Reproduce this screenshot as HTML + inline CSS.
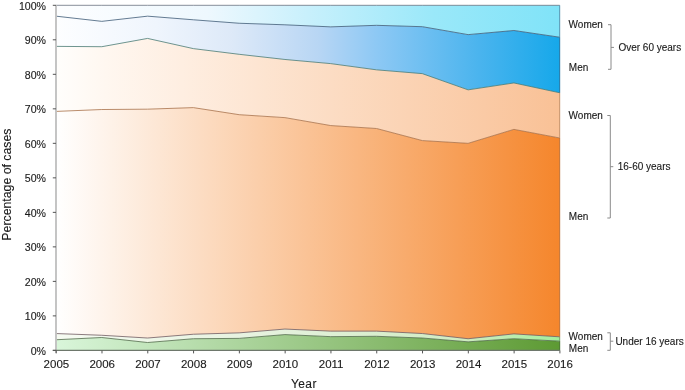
<!DOCTYPE html><html><head><meta charset="utf-8"><style>html,body{margin:0;padding:0;background:#fff;}svg{display:block;}text{font-family:"Liberation Sans",Arial,sans-serif;fill:#1a1a1a;stroke:#1a1a1a;stroke-width:0.12px;}</style></head><body>
<svg width="685" height="390" viewBox="0 0 685 390">
<defs>
<linearGradient id="g0" gradientUnits="userSpaceOnUse" x1="56.0" y1="0" x2="559.7" y2="0"><stop offset="0" stop-color="#d9f6da"/><stop offset="1" stop-color="#5d9a33"/></linearGradient>
<linearGradient id="g1" gradientUnits="userSpaceOnUse" x1="56.0" y1="0" x2="559.7" y2="0"><stop offset="0" stop-color="#f6fbf2"/><stop offset="0.45" stop-color="#e4f1dc"/><stop offset="0.8" stop-color="#d0ecc2"/><stop offset="0.9" stop-color="#bcecb0"/><stop offset="1" stop-color="#a2ee9e"/></linearGradient>
<linearGradient id="g2" gradientUnits="userSpaceOnUse" x1="56.0" y1="0" x2="559.7" y2="0"><stop offset="0" stop-color="#ffffff"/><stop offset="1" stop-color="#f5862c"/></linearGradient>
<linearGradient id="g3" gradientUnits="userSpaceOnUse" x1="56.0" y1="0" x2="559.7" y2="0"><stop offset="0" stop-color="#fffefc"/><stop offset="0.1" stop-color="#fff7f0"/><stop offset="1" stop-color="#f9c196"/></linearGradient>
<linearGradient id="g4" gradientUnits="userSpaceOnUse" x1="56.0" y1="0" x2="559.7" y2="0"><stop offset="0" stop-color="#fdfeff"/><stop offset="0.2" stop-color="#eff5fd"/><stop offset="0.35" stop-color="#dde9f8"/><stop offset="0.52" stop-color="#b8d6f4"/><stop offset="0.64" stop-color="#8cc8f4"/><stop offset="0.84" stop-color="#4ab4ee"/><stop offset="1" stop-color="#16a8ea"/></linearGradient>
<linearGradient id="g5" gradientUnits="userSpaceOnUse" x1="56.0" y1="0" x2="559.7" y2="0"><stop offset="0" stop-color="#fdfeff"/><stop offset="0.3" stop-color="#eef8fe"/><stop offset="0.5" stop-color="#c8f0fc"/><stop offset="0.75" stop-color="#9ae8f9"/><stop offset="1" stop-color="#80e3f8"/></linearGradient>
</defs>
<path d="M56.00,339.76 L101.79,337.51 L147.58,342.52 L193.37,338.72 L239.16,338.38 L284.95,334.58 L330.75,336.65 L376.54,336.31 L422.33,338.03 L468.12,341.83 L513.91,338.72 L559.70,341.14 L559.70,350.40 L513.91,350.40 L468.12,350.40 L422.33,350.40 L376.54,350.40 L330.75,350.40 L284.95,350.40 L239.16,350.40 L193.37,350.40 L147.58,350.40 L101.79,350.40 L56.00,350.40Z" fill="url(#g0)"/>
<path d="M56.00,333.54 L101.79,335.27 L147.58,338.03 L193.37,334.24 L239.16,332.85 L284.95,329.06 L330.75,331.13 L376.54,331.13 L422.33,333.54 L468.12,338.72 L513.91,333.89 L559.70,336.82 L559.70,341.14 L513.91,338.72 L468.12,341.83 L422.33,338.03 L376.54,336.31 L330.75,336.65 L284.95,334.58 L239.16,338.38 L193.37,338.72 L147.58,342.52 L101.79,337.51 L56.00,339.76Z" fill="url(#g1)"/>
<path d="M56.00,111.42 L101.79,109.52 L147.58,109.18 L193.37,107.62 L239.16,114.70 L284.95,117.63 L330.75,125.57 L376.54,128.50 L422.33,140.58 L468.12,143.34 L513.91,129.36 L559.70,137.99 L559.70,336.82 L513.91,333.89 L468.12,338.72 L422.33,333.54 L376.54,331.13 L330.75,331.13 L284.95,329.06 L239.16,332.85 L193.37,334.24 L147.58,338.03 L101.79,335.27 L56.00,333.54Z" fill="url(#g2)"/>
<path d="M56.00,46.37 L101.79,46.71 L147.58,38.43 L193.37,48.61 L239.16,54.30 L284.95,59.48 L330.75,63.62 L376.54,69.83 L422.33,73.63 L468.12,89.85 L513.91,82.95 L559.70,92.78 L559.70,137.99 L513.91,129.36 L468.12,143.34 L422.33,140.58 L376.54,128.50 L330.75,125.57 L284.95,117.63 L239.16,114.70 L193.37,107.62 L147.58,109.18 L101.79,109.52 L56.00,111.42Z" fill="url(#g3)"/>
<path d="M56.00,16.17 L101.79,21.35 L147.58,16.17 L193.37,19.79 L239.16,23.25 L284.95,24.80 L330.75,26.87 L376.54,25.32 L422.33,26.70 L468.12,34.63 L513.91,30.49 L559.70,37.22 L559.70,92.78 L513.91,82.95 L468.12,89.85 L422.33,73.63 L376.54,69.83 L330.75,63.62 L284.95,59.48 L239.16,54.30 L193.37,48.61 L147.58,38.43 L101.79,46.71 L56.00,46.37Z" fill="url(#g4)"/>
<path d="M56.00,5.30 L101.79,5.30 L147.58,5.30 L193.37,5.30 L239.16,5.30 L284.95,5.30 L330.75,5.30 L376.54,5.30 L422.33,5.30 L468.12,5.30 L513.91,5.30 L559.70,5.30 L559.70,37.22 L513.91,30.49 L468.12,34.63 L422.33,26.70 L376.54,25.32 L330.75,26.87 L284.95,24.80 L239.16,23.25 L193.37,19.79 L147.58,16.17 L101.79,21.35 L56.00,16.17Z" fill="url(#g5)"/>
<path d="M56.00,339.76 L101.79,337.51 L147.58,342.52 L193.37,338.72 L239.16,338.38 L284.95,334.58 L330.75,336.65 L376.54,336.31 L422.33,338.03 L468.12,341.83 L513.91,338.72 L559.70,341.14" fill="none" stroke="#4f6a48" stroke-width="0.8"/>
<path d="M56.00,333.54 L101.79,335.27 L147.58,338.03 L193.37,334.24 L239.16,332.85 L284.95,329.06 L330.75,331.13 L376.54,331.13 L422.33,333.54 L468.12,338.72 L513.91,333.89 L559.70,336.82" fill="none" stroke="#6e5a60" stroke-width="0.8"/>
<path d="M56.00,111.42 L101.79,109.52 L147.58,109.18 L193.37,107.62 L239.16,114.70 L284.95,117.63 L330.75,125.57 L376.54,128.50 L422.33,140.58 L468.12,143.34 L513.91,129.36 L559.70,137.99" fill="none" stroke="#a87048" stroke-width="0.8"/>
<path d="M56.00,46.37 L101.79,46.71 L147.58,38.43 L193.37,48.61 L239.16,54.30 L284.95,59.48 L330.75,63.62 L376.54,69.83 L422.33,73.63 L468.12,89.85 L513.91,82.95 L559.70,92.78" fill="none" stroke="#4a7a72" stroke-width="0.8"/>
<path d="M56.00,16.17 L101.79,21.35 L147.58,16.17 L193.37,19.79 L239.16,23.25 L284.95,24.80 L330.75,26.87 L376.54,25.32 L422.33,26.70 L468.12,34.63 L513.91,30.49 L559.70,37.22" fill="none" stroke="#3e5a76" stroke-width="0.8"/>
<path d="M56.00,5.30 L101.79,5.30 L147.58,5.30 L193.37,5.30 L239.16,5.30 L284.95,5.30 L330.75,5.30 L376.54,5.30 L422.33,5.30 L468.12,5.30 L513.91,5.30 L559.70,5.30" fill="none" stroke="#6a7280" stroke-width="0.8"/>
<line x1="559.7" y1="341.14" x2="559.7" y2="350.40" stroke="#3a6a22" stroke-width="0.9"/>
<line x1="559.7" y1="336.82" x2="559.7" y2="341.14" stroke="#6a9a60" stroke-width="0.9"/>
<line x1="559.7" y1="137.99" x2="559.7" y2="336.82" stroke="#b86a30" stroke-width="0.9"/>
<line x1="559.7" y1="92.78" x2="559.7" y2="137.99" stroke="#c08a60" stroke-width="0.9"/>
<line x1="559.7" y1="37.22" x2="559.7" y2="92.78" stroke="#1a6a9a" stroke-width="0.9"/>
<line x1="559.7" y1="5.30" x2="559.7" y2="37.22" stroke="#4a8aa8" stroke-width="0.9"/>
<line x1="56.0" y1="5.3" x2="56.0" y2="353.0" stroke="#c2c2c2" stroke-width="1.9"/>
<line x1="52.8" y1="350.4" x2="559.7" y2="350.4" stroke="#6e786c" stroke-width="1.1"/>
<line x1="52.8" y1="350.40" x2="56.0" y2="350.40" stroke="#555" stroke-width="1"/>
<text x="46" y="354.80" font-size="10.6" text-anchor="end">0%</text>
<line x1="52.8" y1="315.89" x2="56.0" y2="315.89" stroke="#555" stroke-width="1"/>
<text x="46" y="320.29" font-size="10.6" text-anchor="end">10%</text>
<line x1="52.8" y1="281.38" x2="56.0" y2="281.38" stroke="#555" stroke-width="1"/>
<text x="46" y="285.78" font-size="10.6" text-anchor="end">20%</text>
<line x1="52.8" y1="246.87" x2="56.0" y2="246.87" stroke="#555" stroke-width="1"/>
<text x="46" y="251.27" font-size="10.6" text-anchor="end">30%</text>
<line x1="52.8" y1="212.36" x2="56.0" y2="212.36" stroke="#555" stroke-width="1"/>
<text x="46" y="216.76" font-size="10.6" text-anchor="end">40%</text>
<line x1="52.8" y1="177.85" x2="56.0" y2="177.85" stroke="#555" stroke-width="1"/>
<text x="46" y="182.25" font-size="10.6" text-anchor="end">50%</text>
<line x1="52.8" y1="143.34" x2="56.0" y2="143.34" stroke="#555" stroke-width="1"/>
<text x="46" y="147.74" font-size="10.6" text-anchor="end">60%</text>
<line x1="52.8" y1="108.83" x2="56.0" y2="108.83" stroke="#555" stroke-width="1"/>
<text x="46" y="113.23" font-size="10.6" text-anchor="end">70%</text>
<line x1="52.8" y1="74.32" x2="56.0" y2="74.32" stroke="#555" stroke-width="1"/>
<text x="46" y="78.72" font-size="10.6" text-anchor="end">80%</text>
<line x1="52.8" y1="39.81" x2="56.0" y2="39.81" stroke="#555" stroke-width="1"/>
<text x="46" y="44.21" font-size="10.6" text-anchor="end">90%</text>
<line x1="52.8" y1="5.30" x2="56.0" y2="5.30" stroke="#555" stroke-width="1"/>
<text x="46" y="9.70" font-size="10.6" text-anchor="end">100%</text>
<line x1="56.20" y1="350.4" x2="56.20" y2="353.4" stroke="#555" stroke-width="1"/>
<text x="56.40" y="368" font-size="11.5" text-anchor="middle">2005</text>
<line x1="101.99" y1="350.4" x2="101.99" y2="353.4" stroke="#555" stroke-width="1"/>
<text x="102.19" y="368" font-size="11.5" text-anchor="middle">2006</text>
<line x1="147.78" y1="350.4" x2="147.78" y2="353.4" stroke="#555" stroke-width="1"/>
<text x="147.98" y="368" font-size="11.5" text-anchor="middle">2007</text>
<line x1="193.57" y1="350.4" x2="193.57" y2="353.4" stroke="#555" stroke-width="1"/>
<text x="193.77" y="368" font-size="11.5" text-anchor="middle">2008</text>
<line x1="239.36" y1="350.4" x2="239.36" y2="353.4" stroke="#555" stroke-width="1"/>
<text x="239.56" y="368" font-size="11.5" text-anchor="middle">2009</text>
<line x1="285.15" y1="350.4" x2="285.15" y2="353.4" stroke="#555" stroke-width="1"/>
<text x="285.35" y="368" font-size="11.5" text-anchor="middle">2010</text>
<line x1="330.95" y1="350.4" x2="330.95" y2="353.4" stroke="#555" stroke-width="1"/>
<text x="331.15" y="368" font-size="11.5" text-anchor="middle">2011</text>
<line x1="376.74" y1="350.4" x2="376.74" y2="353.4" stroke="#555" stroke-width="1"/>
<text x="376.94" y="368" font-size="11.5" text-anchor="middle">2012</text>
<line x1="422.53" y1="350.4" x2="422.53" y2="353.4" stroke="#555" stroke-width="1"/>
<text x="422.73" y="368" font-size="11.5" text-anchor="middle">2013</text>
<line x1="468.32" y1="350.4" x2="468.32" y2="353.4" stroke="#555" stroke-width="1"/>
<text x="468.52" y="368" font-size="11.5" text-anchor="middle">2014</text>
<line x1="514.11" y1="350.4" x2="514.11" y2="353.4" stroke="#555" stroke-width="1"/>
<text x="514.31" y="368" font-size="11.5" text-anchor="middle">2015</text>
<line x1="559.90" y1="350.4" x2="559.90" y2="353.4" stroke="#555" stroke-width="1"/>
<text x="560.10" y="368" font-size="11.5" text-anchor="middle">2016</text>
<text x="303.9" y="388" font-size="12" letter-spacing="0.45" text-anchor="middle">Year</text>
<text transform="translate(10.8,184.6) rotate(-90)" font-size="12.3" text-anchor="middle">Percentage of cases</text>
<text x="568.6" y="27.6" font-size="10">Women</text>
<text x="568.8" y="70.6" font-size="10">Men</text>
<text x="568.6" y="119.1" font-size="10">Women</text>
<text x="568.8" y="219.6" font-size="10">Men</text>
<text x="568.6" y="339.6" font-size="10">Women</text>
<text x="568.8" y="352.3" font-size="10">Men</text>
<text x="618.4" y="50.5" font-size="10">Over 60 years</text>
<text x="617.7" y="169.9" font-size="10">16-60 years</text>
<text x="615.4" y="345.2" font-size="10">Under 16 years</text>
<path d="M608.0,24.7 L611.0,24.7 L611.0,69.3 L608.0,69.3 M611.0,47.4 L614.0,47.4" fill="none" stroke="#8a8a8a" stroke-width="1"/>
<path d="M607.3,115.5 L610.3,115.5 L610.3,218.0 L607.3,218.0 M610.3,166.7 L613.3,166.7" fill="none" stroke="#8a8a8a" stroke-width="1"/>
<path d="M607.3,332.8 L610.3,332.8 L610.3,350.3 L607.3,350.3 M610.3,341.2 L613.3,341.2" fill="none" stroke="#8a8a8a" stroke-width="1"/>
</svg></body></html>
